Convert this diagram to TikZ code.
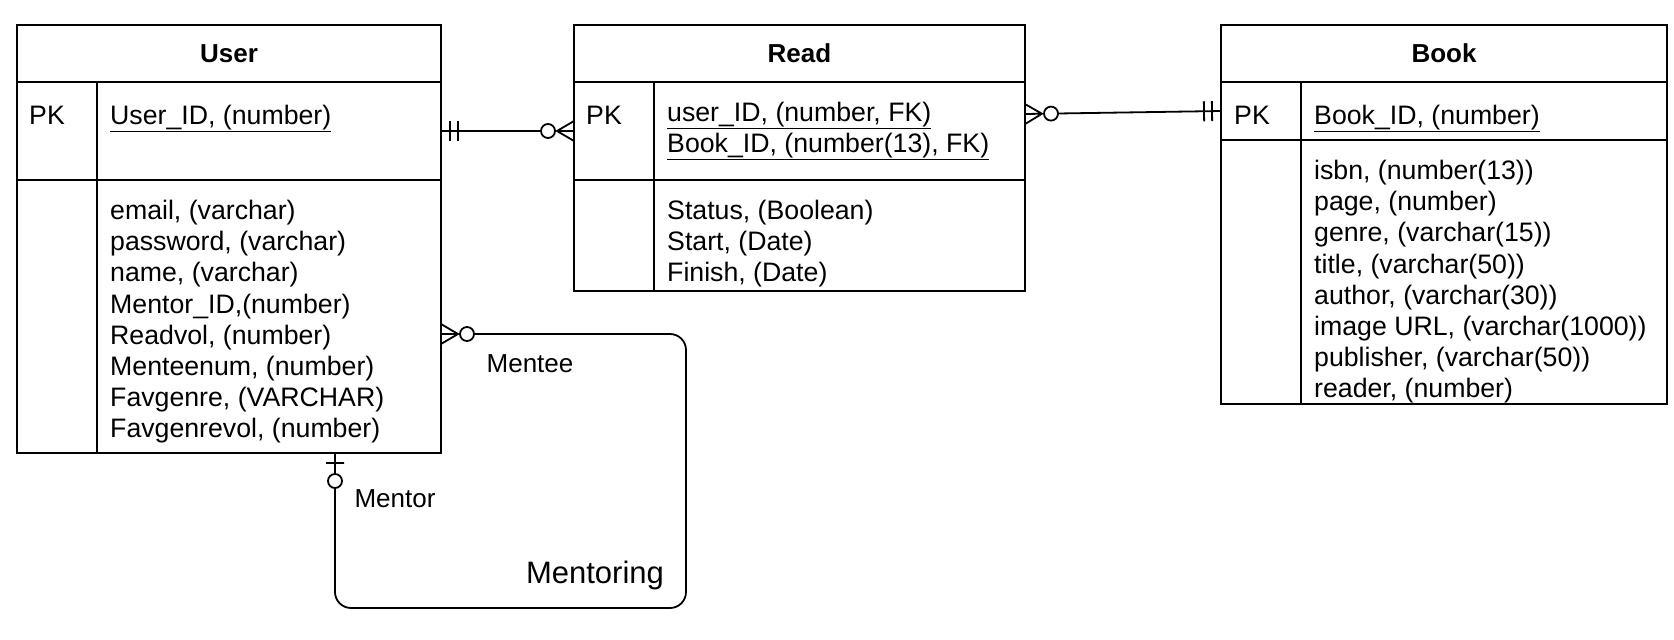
\documentclass[tikz,border=0pt]{standalone}
\usepackage{fontspec}
\setmainfont{Liberation Sans}
\usepackage{tikz}
\usetikzlibrary{arrows.meta,positioning}
\newcommand\erfont{\fontsize{26}{31.2}\selectfont}
\newcommand\fieldfont{\fontsize{26.7}{31.2}\selectfont}
% crow's foot ends
\pgfdeclarearrow{
  name = ERone,
  setup code = {
    \pgfarrowssettipend{0pt}
    \pgfarrowssetlineend{0pt}
    \pgfarrowssetbackend{-18pt}
    \pgfarrowssetvisualbackend{-18pt}
    \pgfarrowshullpoint{0pt}{10pt}
    \pgfarrowshullpoint{0pt}{-10pt}
    \pgfarrowshullpoint{-18pt}{10pt}
    \pgfarrowshullpoint{-18pt}{-10pt}
  },
  drawing code = {
    \pgfpathmoveto{\pgfqpoint{-9pt}{-10pt}}
    \pgfpathlineto{\pgfqpoint{-9pt}{10pt}}
    \pgfpathmoveto{\pgfqpoint{-17pt}{-10pt}}
    \pgfpathlineto{\pgfqpoint{-17pt}{10pt}}
    \pgfusepathqstroke
  }
}
\pgfdeclarearrow{
  name = ERmany,
  setup code = {
    \pgfarrowssettipend{0pt}
    \pgfarrowssetlineend{-33pt}
    \pgfarrowssetbackend{-33pt}
    \pgfarrowssetvisualbackend{-33pt}
    \pgfarrowshullpoint{0pt}{10pt}
    \pgfarrowshullpoint{0pt}{-10pt}
    \pgfarrowshullpoint{-33pt}{7pt}
    \pgfarrowshullpoint{-33pt}{-7pt}
  },
  drawing code = {
    \pgfpathmoveto{\pgfqpoint{0pt}{10pt}}
    \pgfpathlineto{\pgfqpoint{-17pt}{0pt}}
    \pgfpathlineto{\pgfqpoint{0pt}{-10pt}}
    \pgfpathmoveto{\pgfqpoint{0pt}{0pt}}
    \pgfpathlineto{\pgfqpoint{-17pt}{0pt}}
    \pgfpathcircle{\pgfqpoint{-26pt}{0pt}}{7pt}
    \pgfusepathqstroke
  }
}
\pgfdeclarearrow{
  name = ERzeroone,
  setup code = {
    \pgfarrowssettipend{0pt}
    \pgfarrowssetlineend{-35pt}
    \pgfarrowssetbackend{-35pt}
    \pgfarrowssetvisualbackend{-35pt}
    \pgfarrowshullpoint{0pt}{9pt}
    \pgfarrowshullpoint{0pt}{-9pt}
    \pgfarrowshullpoint{-35pt}{7pt}
    \pgfarrowshullpoint{-35pt}{-7pt}
  },
  drawing code = {
    \pgfpathmoveto{\pgfqpoint{0pt}{0pt}}
    \pgfpathlineto{\pgfqpoint{-21pt}{0pt}}
    \pgfpathmoveto{\pgfqpoint{-10pt}{-9pt}}
    \pgfpathlineto{\pgfqpoint{-10pt}{9pt}}
    \pgfpathcircle{\pgfqpoint{-28pt}{0pt}}{7pt}
    \pgfusepathqstroke
  }
}
\tikzset{
  cell/.style={draw, line width=1.8pt, inner sep=0pt, outer sep=0pt},
  entity/.style={cell, font=\erfont\bfseries, minimum height=57pt},
  field/.style={anchor=north west, inner sep=0pt, align=left, font=\fieldfont,
                execute at begin node=\strut},
  role/.style={inner sep=0pt, font=\erfont},
  divider/.style={line width=1.8pt},
  relation/.style={line width=1.8pt}
}
\begin{document}
\begin{tikzpicture}[x=1pt, y=-1pt]
  \useasboundingbox (0,0) rectangle (1674,640);
  % User
  \node[entity, minimum width=424pt, anchor=north west] (user) at (17,25) {User};
  \node[cell, minimum width=424pt, minimum height=98pt, below=0pt of user] (userkey) {};
  \node[cell, minimum width=424pt, minimum height=273pt, below=0pt of userkey] (userattr) {};
  \draw[divider] ([xshift=80pt]userkey.north west) -- ([xshift=80pt]userattr.south west);
  \node[field] (userpk) at ([xshift=12pt,yshift=-20pt]userkey.north west) {PK};
  \node[field] (userid) at ([xshift=93pt,yshift=-20pt]userkey.north west) {\underline{User\_ID, (number)}};
  \node[field] (userfields) at ([xshift=93pt,yshift=-20pt]userattr.north west)
    {email, (varchar)\\password, (varchar)\\name, (varchar)\\Mentor\_ID,(number)\\
     Readvol, (number)\\Menteenum, (number)\\Favgenre, (VARCHAR)\\Favgenrevol, (number)};

  % Read
  \node[entity, minimum width=451pt, anchor=north west] (read) at (574,25) {Read};
  \node[cell, minimum width=451pt, minimum height=98pt, below=0pt of read] (readkey) {};
  \node[cell, minimum width=451pt, minimum height=111pt, below=0pt of readkey] (readattr) {};
  \draw[divider] ([xshift=80pt]readkey.north west) -- ([xshift=80pt]readattr.south west);
  \node[field] (readpk) at ([xshift=12pt,yshift=-20pt]readkey.north west) {PK};
  \node[field] (readid) at ([xshift=93pt,yshift=-20pt]readkey.north west)
    {\underline{user\_ID, (number, FK)}\\\underline{Book\_ID, (number(13), FK)}};
  \node[field] (readfields) at ([xshift=93pt,yshift=-20pt]readattr.north west)
    {Status, (Boolean)\\Start, (Date)\\Finish, (Date)};

  % Book
  \node[entity, minimum width=446pt, anchor=north west] (book) at (1221,25) {Book};
  \node[cell, minimum width=446pt, minimum height=58pt, below=0pt of book] (bookkey) {};
  \node[cell, minimum width=446pt, minimum height=264pt, below=0pt of bookkey] (bookattr) {};
  \draw[divider] ([xshift=80pt]bookkey.north west) -- ([xshift=80pt]bookattr.south west);
  \node[field] (bookpk) at ([xshift=13pt,yshift=-20pt]bookkey.north west) {PK};
  \node[field] (bookid) at ([xshift=93pt,yshift=-20pt]bookkey.north west) {\underline{Book\_ID, (number)}};
  \node[field] (bookfields) at ([xshift=93pt,yshift=-20pt]bookattr.north west)
    {isbn, (number(13))\\page, (number)\\genre, (varchar(15))\\title, (varchar(50))\\
     author, (varchar(30))\\image URL, (varchar(1000))\\publisher, (varchar(50))\\reader, (number)};

  % relations
  \draw[relation, {ERone}-{ERmany}] (userkey.east) -- (readkey.west);
  \draw[relation, {ERmany}-{ERone}] ([yshift=17pt]readkey.east) -- (bookkey.west);
  \coordinate (loopcorner) at (686,608);
  \draw[relation, rounded corners=16pt, {ERmany}-{ERzeroone}]
    ([yshift=-17.5pt]userattr.east) -| (loopcorner) -| ([xshift=106pt]userattr.south);
  \node[role] (menteelabel) at (530,364) {Mentee};
  \node[role] (mentorlabel) at (395,499) {Mentor};
  \node[role, font=\fontsize{31}{37}\selectfont] (looplabel) at (595,575) {Mentoring};
\end{tikzpicture}
\end{document}
